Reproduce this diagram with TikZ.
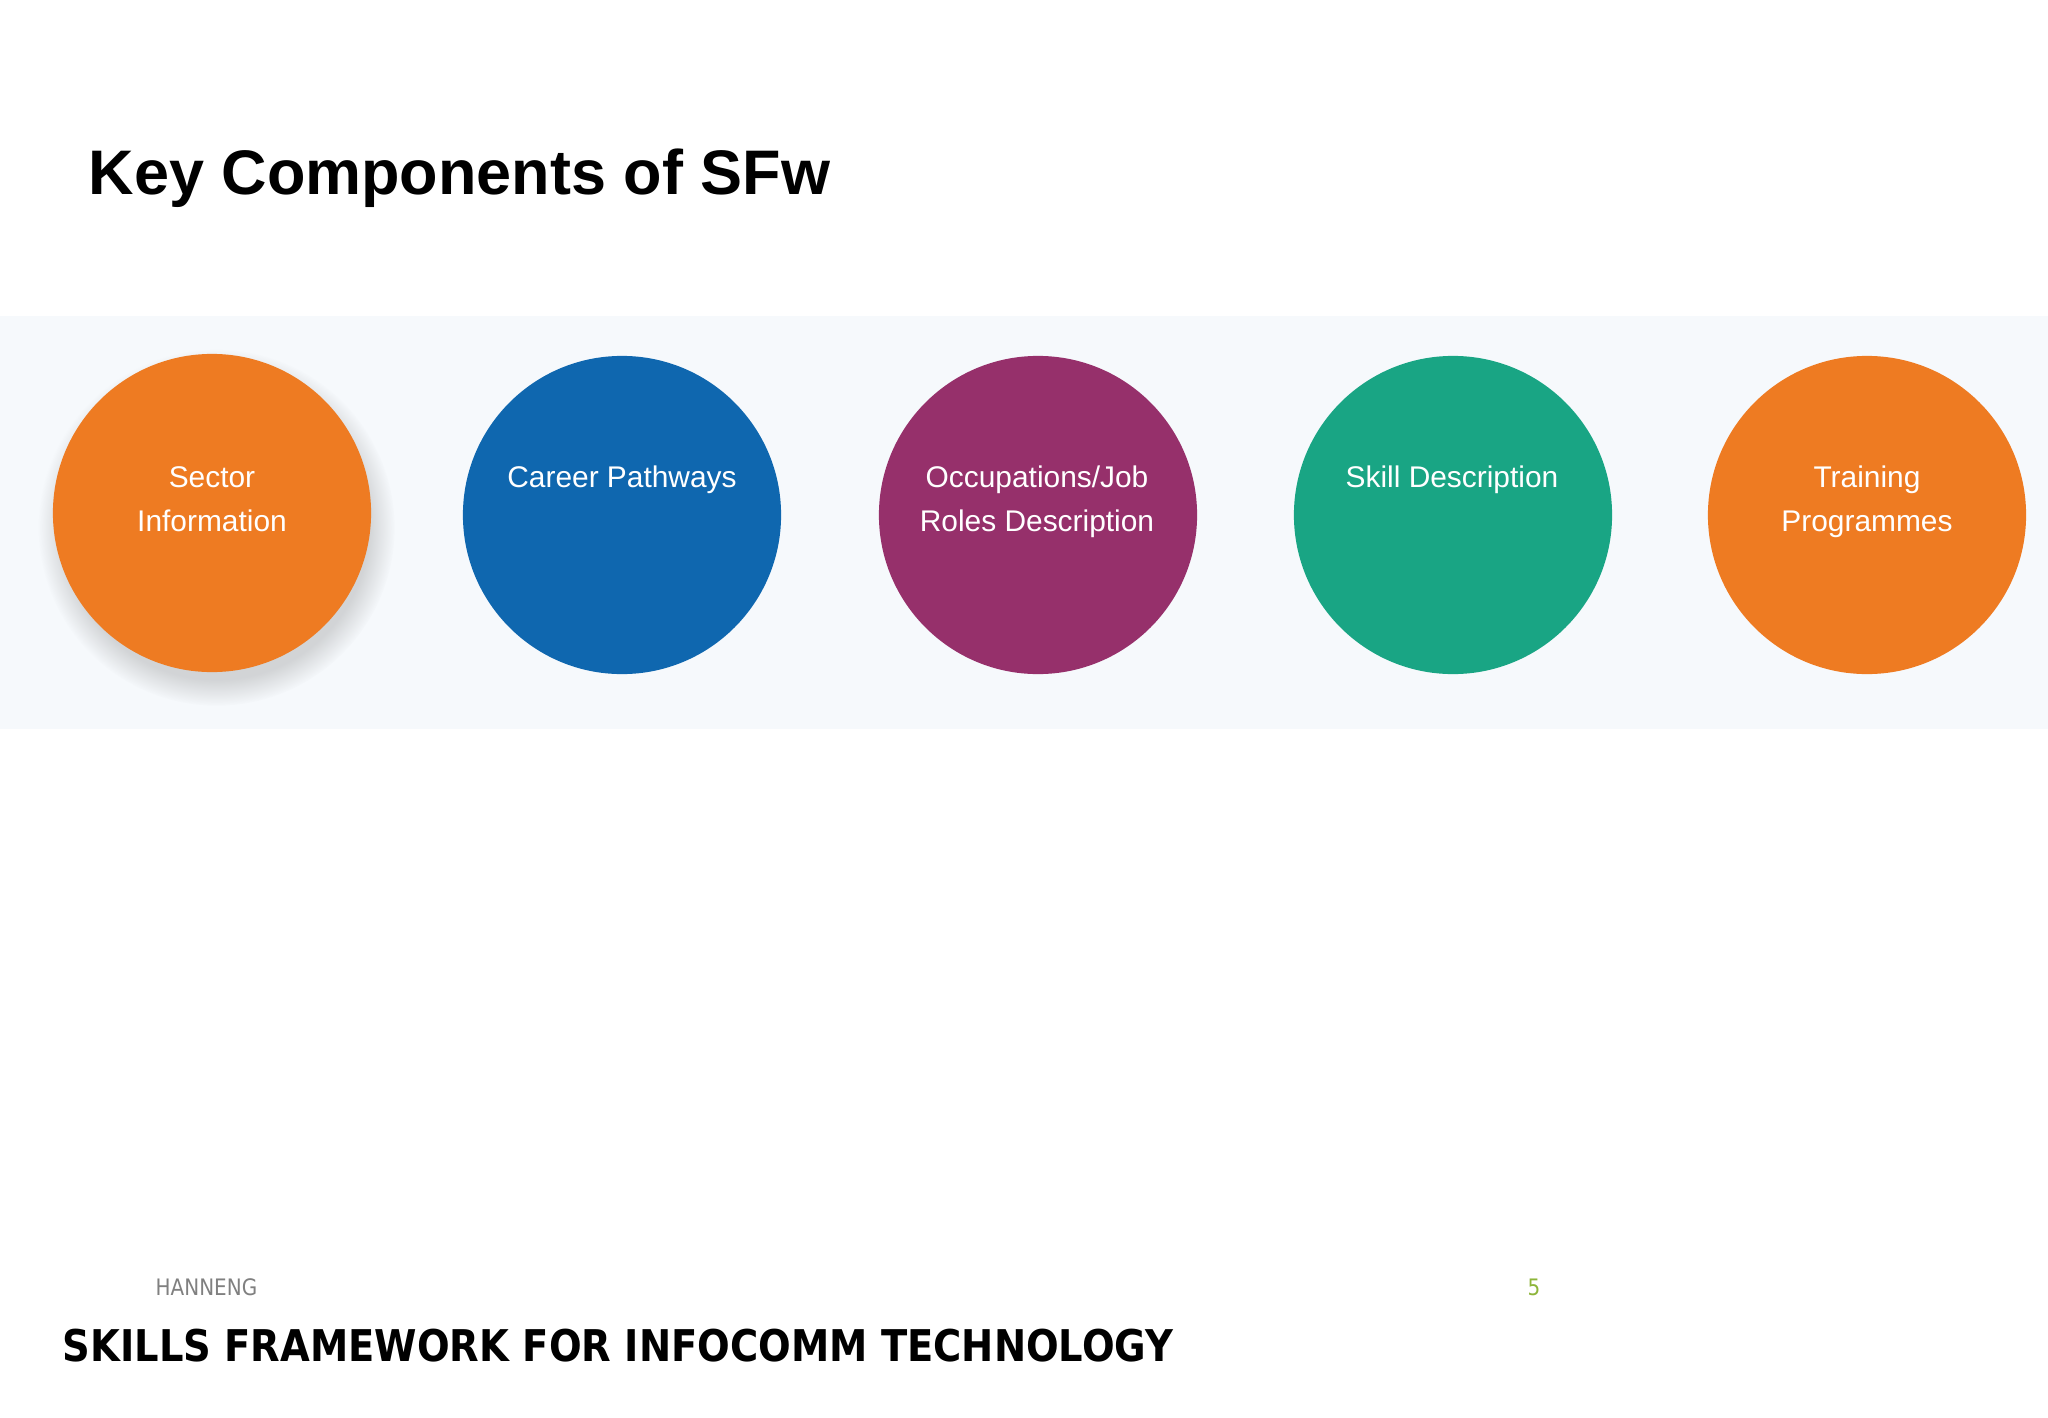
\documentclass[tikz,border=0pt]{standalone}
\usepackage{fontspec}
\setmainfont{Liberation Sans}
\newfontfamily\footfont[FakeStretch=0.88]{DejaVu Sans}
\usetikzlibrary{shadows}
\definecolor{bandbg}{HTML}{F6F9FC}
\definecolor{sfworange}{HTML}{EE7B22}
\definecolor{sfwblue}{HTML}{0F67AF}
\definecolor{sfwpurple}{HTML}{96306B}
\definecolor{sfwgreen}{HTML}{19A584}
\definecolor{pagenum}{HTML}{8DB53A}
\tikzset{
  disc/.style={circle, minimum size=3.18cm, inner sep=0pt},
  disclabel/.style={text=white, font=\fontsize{8.5}{12.5}\selectfont, align=center, inner sep=0pt},
}

\begin{document}
\begin{tikzpicture}[x=0.01cm, y=-0.01cm]
      \useasboundingbox (0,0) rectangle (2048,1418);
      \fill[bandbg] (0,316) rectangle (2048,729);
      \node[anchor=base west, inner sep=0pt, font=\bfseries\fontsize{17.9}{22}\selectfont] (title) at (88,194) {Key Components of SFw};
      \node[disc, fill=sfworange, circular drop shadow={shadow xshift=0.04cm, shadow yshift=-0.13cm, shadow scale=1.12, opacity=0.3}] (sector) at (212,513) {};
      \node[disc, fill=sfwblue] (career) at (622,515) {};
      \node[disc, fill=sfwpurple] (occupations) at (1038,515) {};
      \node[disc, fill=sfwgreen] (skill) at (1453,515) {};
      \node[disc, fill=sfworange] (training) at (1867,515) {};
      \node[disclabel] (sectortext) at (212,499) {Sector\\Information};
      \node[disclabel] (careertext) at (622,480) {Career Pathways};
      \node[disclabel] (occupationstext) at (1037,502) {Occupations/Job\\Roles Description};
      \node[disclabel] (skilltext) at (1452,480) {Skill Description};
      \node[disclabel] (trainingtext) at (1867,502) {Training\\Programmes};
      \node[anchor=base west, inner sep=0pt, text=gray, font=\footfont\fontsize{6.45}{8}\selectfont] (author) at (155,1295) {HANNENG};
      \node[anchor=base west, inner sep=0pt, text=pagenum, font=\footfont\fontsize{6.45}{8}\selectfont] (page) at (1527,1295) {5};
      \node[anchor=base west, inner sep=0pt, font=\footfont\bfseries\fontsize{12.43}{15}\selectfont] (footer) at (62,1361) {SKILLS FRAMEWORK FOR INFOCOMM TECHNOLOGY};
\end{tikzpicture}
\end{document}
